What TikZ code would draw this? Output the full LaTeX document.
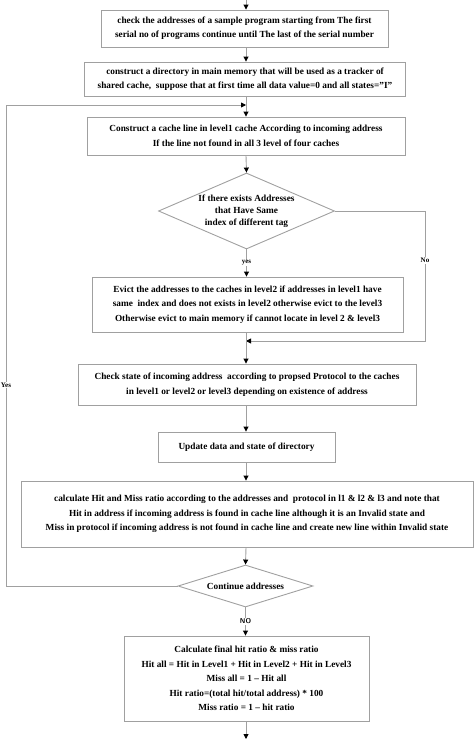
\documentclass[tikz,border=0pt]{standalone}
\usepackage{fontspec}
\setmainfont{Liberation Serif}
\usetikzlibrary{arrows.meta,shapes.geometric}
\definecolor{ln}{HTML}{A0A0A0}
\tikzset{
  box/.style={draw=ln,line width=0.9pt,rectangle,inner sep=0pt,align=center,
    font=\bfseries\fontsize{9.3}{14.5}\selectfont},
  dec/.style={draw=ln,line width=0.9pt,diamond,inner sep=0pt},
  dtext/.style={align=center,font=\bfseries\fontsize{9.3}{12}\selectfont},
  arr/.style={draw=ln,line width=0.9pt,-{Triangle[length=5pt,width=5pt,color=black,fill=black]}},
  conn/.style={draw=ln,line width=0.9pt},
  lab/.style={fill=white,inner sep=1pt,font=\bfseries\fontsize{7}{8}\selectfont},
  labsf/.style={fill=white,inner sep=1pt,font=\sffamily\bfseries\fontsize{7}{8}\selectfont},
}
\begin{document}
\begin{tikzpicture}[x=1pt,y=-1pt]
\useasboundingbox (0,0) rectangle (474,739);
\coordinate (top) at (246,0);
\node[box,minimum width=287,minimum height=37] (b1) at (244.5,28.5)
  {check the addresses of a sample program starting from The first\\serial no of programs continue until The last of the serial number};
\node[box,minimum width=321,minimum height=34] (b2) at (245,79)
  {construct a directory in main memory that will be used as a tracker of\\shared cache,\ \ suppose that at first time all data value=0 and all states="I"};
\node[box,minimum width=318,minimum height=38] (b3) at (246,136)
  {Construct a cache line in level1 cache According to incoming address\\If the line not found in all 3 level of four caches};
\node[dec,minimum width=176,minimum height=76] (d1) at (246.5,211) {};
\node[dtext] at (d1) {If there exists Addresses\\that Have Same\\index of different tag};
\node[box,minimum width=311,minimum height=55] (b4) at (247.5,304.5)
  {Evict the addresses to the caches in level2 if addresses in level1 have\\same\ \ index and does not exists in level2 otherwise evict to the level3\\ Otherwise evict to main memory if cannot locate in level 2 \& level3};
\node[box,minimum width=338,minimum height=41] (b5) at (247,384.5)
  {Check state of incoming address\ \ according to propsed Protocol to the caches\\in level1 or level2 or level3 depending on existence of address};
\node[box,minimum width=177,minimum height=30] (b6) at (246.5,447)
  {Update data and state of directory};
\node[box,minimum width=452,minimum height=66] (b7) at (247,514)
  {calculate Hit and Miss ratio according to the addresses and\ \ protocol in l1 \& l2 \& l3 and note that\\Hit in address if incoming address is found in cache line although it is an Invalid state and\\Miss in protocol if incoming address is not found in cache line and create new line within Invalid state};
\node[dec,minimum width=135,minimum height=42] (d2) at (245.5,586) {};
\node[dtext] at (d2) {Continue addresses};
\node[box,minimum width=245,minimum height=85] (b8) at (246.5,678.5)
  {Calculate final hit ratio \& miss ratio\\Hit all = Hit in Level1 + Hit in Level2 + Hit in Level3\\Miss all = 1 -- Hit all\\Hit ratio=(total hit/total address) * 100\\Miss ratio = 1 -- hit ratio};
\coordinate (bot) at (246,739);
\coordinate (join) at (246,105);
\coordinate (merge) at (246,341);
\coordinate (lx) at (6,586);
\coordinate (rx) at (425,211);
% connectors
\draw[arr] (top) -- (top|-b1.north);
\draw[arr] (b1.south-|top) -- (b2.north-|top);
\draw[arr] (b2.south-|top) -- (b3.north-|top);
\draw[arr] (b3.south-|top) -- (d1.north);
\draw[arr] (d1.south) -- node[lab,pos=0.5]{yes} (d1.south|-b4.north);
\draw[arr] (d1.east) -- (rx) |- node[lab,pos=0.19]{No} (merge);
\draw[arr] (b4.south-|top) -- (b5.north-|top);
\draw[arr] (b5.south-|top) -- (b6.north-|top);
\draw[arr] (b6.south-|top) -- (b7.north-|top);
\draw[arr] (b7.south-|top) -- (d2.north);
\draw[arr] (d2.south) -- node[labsf,pos=0.5]{NO} (d2.south|-b8.north);
\draw[arr] (b8.south-|top) -- (bot);
\draw[arr] (d2.west) -- (lx) |- node[lab,pos=0.209]{Yes} (join);
\end{tikzpicture}
\end{document}
